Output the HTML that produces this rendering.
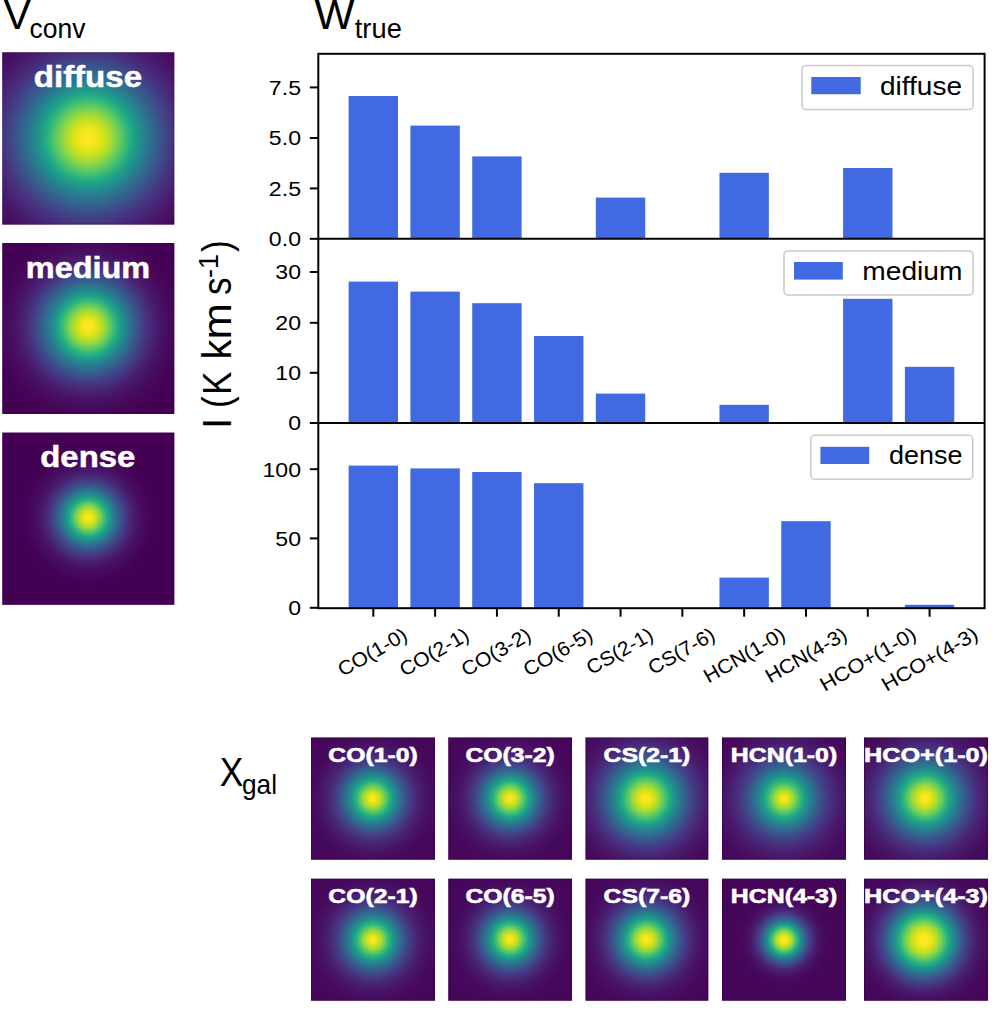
<!DOCTYPE html>
<html><head><meta charset="utf-8"><style>
html,body{margin:0;padding:0;background:#fff;width:1000px;height:1011px;overflow:hidden}
svg{display:block}
</style></head><body>
<svg width="1000" height="1011" viewBox="0 0 1000 1011">
<defs><radialGradient id="g1" gradientUnits="userSpaceOnUse" cx="0" cy="0" r="125"><stop offset="0.0000" stop-color="#fde725"/><stop offset="0.0065" stop-color="#fde725"/><stop offset="0.0161" stop-color="#fde725"/><stop offset="0.0272" stop-color="#fde725"/><stop offset="0.0395" stop-color="#fbe723"/><stop offset="0.0529" stop-color="#f6e620"/><stop offset="0.0670" stop-color="#f1e51d"/><stop offset="0.0818" stop-color="#ece51b"/><stop offset="0.0974" stop-color="#e5e419"/><stop offset="0.1135" stop-color="#dae319"/><stop offset="0.1301" stop-color="#d0e11c"/><stop offset="0.1473" stop-color="#c2df23"/><stop offset="0.1649" stop-color="#b5de2b"/><stop offset="0.1830" stop-color="#a5db36"/><stop offset="0.2015" stop-color="#95d840"/><stop offset="0.2204" stop-color="#81d34d"/><stop offset="0.2397" stop-color="#70cf57"/><stop offset="0.2594" stop-color="#5ec962"/><stop offset="0.2794" stop-color="#4ec36b"/><stop offset="0.2998" stop-color="#3dbc74"/><stop offset="0.3204" stop-color="#2fb47c"/><stop offset="0.3414" stop-color="#25ac82"/><stop offset="0.3627" stop-color="#1fa287"/><stop offset="0.3843" stop-color="#1f9a8a"/><stop offset="0.4061" stop-color="#20928c"/><stop offset="0.4283" stop-color="#23888e"/><stop offset="0.4507" stop-color="#27808e"/><stop offset="0.4733" stop-color="#2a778e"/><stop offset="0.4962" stop-color="#2d708e"/><stop offset="0.5194" stop-color="#31678e"/><stop offset="0.5428" stop-color="#355f8d"/><stop offset="0.5664" stop-color="#38588c"/><stop offset="0.5903" stop-color="#3c508b"/><stop offset="0.6144" stop-color="#3f4889"/><stop offset="0.6387" stop-color="#424186"/><stop offset="0.6632" stop-color="#443a83"/><stop offset="0.6880" stop-color="#46337f"/><stop offset="0.7129" stop-color="#472e7c"/><stop offset="0.7381" stop-color="#482878"/><stop offset="0.7634" stop-color="#482374"/><stop offset="0.7890" stop-color="#481f70"/><stop offset="0.8147" stop-color="#481a6c"/><stop offset="0.8406" stop-color="#481769"/><stop offset="0.8668" stop-color="#471365"/><stop offset="0.8930" stop-color="#471063"/><stop offset="0.9195" stop-color="#470d60"/><stop offset="0.9462" stop-color="#460b5e"/><stop offset="0.9730" stop-color="#46085c"/><stop offset="1.0000" stop-color="#46075a"/></radialGradient>
<radialGradient id="g2" gradientUnits="userSpaceOnUse" cx="0" cy="0" r="125"><stop offset="0.0000" stop-color="#fde725"/><stop offset="0.0065" stop-color="#fde725"/><stop offset="0.0161" stop-color="#fde725"/><stop offset="0.0272" stop-color="#fbe723"/><stop offset="0.0395" stop-color="#f6e620"/><stop offset="0.0529" stop-color="#efe51c"/><stop offset="0.0670" stop-color="#e5e419"/><stop offset="0.0818" stop-color="#d5e21a"/><stop offset="0.0974" stop-color="#c5e021"/><stop offset="0.1135" stop-color="#b2dd2d"/><stop offset="0.1301" stop-color="#9dd93b"/><stop offset="0.1473" stop-color="#86d549"/><stop offset="0.1649" stop-color="#6ece58"/><stop offset="0.1830" stop-color="#56c667"/><stop offset="0.2015" stop-color="#3fbc73"/><stop offset="0.2204" stop-color="#2db27d"/><stop offset="0.2397" stop-color="#22a785"/><stop offset="0.2594" stop-color="#1e9b8a"/><stop offset="0.2794" stop-color="#21908d"/><stop offset="0.2998" stop-color="#25838e"/><stop offset="0.3204" stop-color="#2a788e"/><stop offset="0.3414" stop-color="#2e6e8e"/><stop offset="0.3627" stop-color="#33638d"/><stop offset="0.3843" stop-color="#38588c"/><stop offset="0.4061" stop-color="#3d4e8a"/><stop offset="0.4283" stop-color="#414487"/><stop offset="0.4507" stop-color="#443a83"/><stop offset="0.4733" stop-color="#46327e"/><stop offset="0.4962" stop-color="#472a7a"/><stop offset="0.5194" stop-color="#482374"/><stop offset="0.5428" stop-color="#481d6f"/><stop offset="0.5664" stop-color="#48186a"/><stop offset="0.5903" stop-color="#471365"/><stop offset="0.6144" stop-color="#471063"/><stop offset="0.6387" stop-color="#460b5e"/><stop offset="0.6632" stop-color="#460a5d"/><stop offset="0.6880" stop-color="#46075a"/><stop offset="0.7129" stop-color="#450559"/><stop offset="0.7381" stop-color="#450457"/><stop offset="0.7634" stop-color="#440256"/><stop offset="0.7890" stop-color="#440256"/><stop offset="0.8147" stop-color="#440154"/><stop offset="0.8406" stop-color="#440154"/><stop offset="0.8668" stop-color="#440154"/><stop offset="0.8930" stop-color="#440154"/><stop offset="0.9195" stop-color="#440154"/><stop offset="0.9462" stop-color="#440154"/><stop offset="0.9730" stop-color="#440154"/><stop offset="1.0000" stop-color="#440154"/></radialGradient>
<radialGradient id="g3" gradientUnits="userSpaceOnUse" cx="0" cy="0" r="125"><stop offset="0.0000" stop-color="#fde725"/><stop offset="0.0065" stop-color="#fde725"/><stop offset="0.0161" stop-color="#fbe723"/><stop offset="0.0272" stop-color="#f1e51d"/><stop offset="0.0395" stop-color="#e5e419"/><stop offset="0.0529" stop-color="#d2e21b"/><stop offset="0.0670" stop-color="#bade28"/><stop offset="0.0818" stop-color="#9dd93b"/><stop offset="0.0974" stop-color="#7cd250"/><stop offset="0.1135" stop-color="#5cc863"/><stop offset="0.1301" stop-color="#3dbc74"/><stop offset="0.1473" stop-color="#27ad81"/><stop offset="0.1649" stop-color="#1f9e89"/><stop offset="0.1830" stop-color="#218f8d"/><stop offset="0.2015" stop-color="#27808e"/><stop offset="0.2204" stop-color="#2d718e"/><stop offset="0.2397" stop-color="#33628d"/><stop offset="0.2594" stop-color="#3a548c"/><stop offset="0.2794" stop-color="#3f4788"/><stop offset="0.2998" stop-color="#443b84"/><stop offset="0.3204" stop-color="#472f7d"/><stop offset="0.3414" stop-color="#482677"/><stop offset="0.3627" stop-color="#481d6f"/><stop offset="0.3843" stop-color="#481769"/><stop offset="0.4061" stop-color="#471164"/><stop offset="0.4283" stop-color="#470d60"/><stop offset="0.4507" stop-color="#460a5d"/><stop offset="0.4733" stop-color="#46075a"/><stop offset="0.4962" stop-color="#450457"/><stop offset="0.5194" stop-color="#440256"/><stop offset="0.5428" stop-color="#440256"/><stop offset="0.5664" stop-color="#440154"/><stop offset="0.5903" stop-color="#440154"/><stop offset="0.6144" stop-color="#440154"/><stop offset="0.6387" stop-color="#440154"/><stop offset="0.6632" stop-color="#440154"/><stop offset="0.6880" stop-color="#440154"/><stop offset="0.7129" stop-color="#440154"/><stop offset="0.7381" stop-color="#440154"/><stop offset="0.7634" stop-color="#440154"/><stop offset="0.7890" stop-color="#440154"/><stop offset="0.8147" stop-color="#440154"/><stop offset="0.8406" stop-color="#440154"/><stop offset="0.8668" stop-color="#440154"/><stop offset="0.8930" stop-color="#440154"/><stop offset="0.9195" stop-color="#440154"/><stop offset="0.9462" stop-color="#440154"/><stop offset="0.9730" stop-color="#440154"/><stop offset="1.0000" stop-color="#440154"/></radialGradient>
<radialGradient id="g4" gradientUnits="userSpaceOnUse" cx="0" cy="0" r="95"><stop offset="0.0000" stop-color="#fde725"/><stop offset="0.0065" stop-color="#fde725"/><stop offset="0.0161" stop-color="#fbe723"/><stop offset="0.0272" stop-color="#f4e61e"/><stop offset="0.0395" stop-color="#eae51a"/><stop offset="0.0529" stop-color="#dde318"/><stop offset="0.0670" stop-color="#cae11f"/><stop offset="0.0818" stop-color="#b8de29"/><stop offset="0.0974" stop-color="#9dd93b"/><stop offset="0.1135" stop-color="#84d44b"/><stop offset="0.1301" stop-color="#69cd5b"/><stop offset="0.1473" stop-color="#52c569"/><stop offset="0.1649" stop-color="#3aba76"/><stop offset="0.1830" stop-color="#28ae80"/><stop offset="0.2015" stop-color="#20a386"/><stop offset="0.2204" stop-color="#1f978b"/><stop offset="0.2397" stop-color="#228b8d"/><stop offset="0.2594" stop-color="#27808e"/><stop offset="0.2794" stop-color="#2b748e"/><stop offset="0.2998" stop-color="#30698e"/><stop offset="0.3204" stop-color="#355f8d"/><stop offset="0.3414" stop-color="#3a548c"/><stop offset="0.3627" stop-color="#3e4a89"/><stop offset="0.3843" stop-color="#424186"/><stop offset="0.4061" stop-color="#443983"/><stop offset="0.4283" stop-color="#46327e"/><stop offset="0.4507" stop-color="#472a7a"/><stop offset="0.4733" stop-color="#482475"/><stop offset="0.4962" stop-color="#481f70"/><stop offset="0.5194" stop-color="#481b6d"/><stop offset="0.5428" stop-color="#481769"/><stop offset="0.5664" stop-color="#471365"/><stop offset="0.5903" stop-color="#471063"/><stop offset="0.6144" stop-color="#470e61"/><stop offset="0.6387" stop-color="#460b5e"/><stop offset="0.6632" stop-color="#460a5d"/><stop offset="0.6880" stop-color="#460a5d"/><stop offset="0.7129" stop-color="#46085c"/><stop offset="0.7381" stop-color="#46085c"/><stop offset="0.7634" stop-color="#46075a"/><stop offset="0.7890" stop-color="#46075a"/><stop offset="0.8147" stop-color="#46075a"/><stop offset="0.8406" stop-color="#46075a"/><stop offset="0.8668" stop-color="#46075a"/><stop offset="0.8930" stop-color="#46075a"/><stop offset="0.9195" stop-color="#450559"/><stop offset="0.9462" stop-color="#450559"/><stop offset="0.9730" stop-color="#450559"/><stop offset="1.0000" stop-color="#450559"/></radialGradient>
<radialGradient id="g5" gradientUnits="userSpaceOnUse" cx="0" cy="0" r="95"><stop offset="0.0000" stop-color="#fde725"/><stop offset="0.0065" stop-color="#fde725"/><stop offset="0.0161" stop-color="#fbe723"/><stop offset="0.0272" stop-color="#f4e61e"/><stop offset="0.0395" stop-color="#eae51a"/><stop offset="0.0529" stop-color="#dde318"/><stop offset="0.0670" stop-color="#cae11f"/><stop offset="0.0818" stop-color="#b5de2b"/><stop offset="0.0974" stop-color="#9dd93b"/><stop offset="0.1135" stop-color="#84d44b"/><stop offset="0.1301" stop-color="#69cd5b"/><stop offset="0.1473" stop-color="#50c46a"/><stop offset="0.1649" stop-color="#38b977"/><stop offset="0.1830" stop-color="#27ad81"/><stop offset="0.2015" stop-color="#1fa187"/><stop offset="0.2204" stop-color="#1f958b"/><stop offset="0.2397" stop-color="#23898e"/><stop offset="0.2594" stop-color="#287d8e"/><stop offset="0.2794" stop-color="#2c718e"/><stop offset="0.2998" stop-color="#31678e"/><stop offset="0.3204" stop-color="#365c8d"/><stop offset="0.3414" stop-color="#3b518b"/><stop offset="0.3627" stop-color="#3f4889"/><stop offset="0.3843" stop-color="#423f85"/><stop offset="0.4061" stop-color="#453581"/><stop offset="0.4283" stop-color="#472e7c"/><stop offset="0.4507" stop-color="#482878"/><stop offset="0.4733" stop-color="#482173"/><stop offset="0.4962" stop-color="#481c6e"/><stop offset="0.5194" stop-color="#48186a"/><stop offset="0.5428" stop-color="#481467"/><stop offset="0.5664" stop-color="#471164"/><stop offset="0.5903" stop-color="#470e61"/><stop offset="0.6144" stop-color="#470d60"/><stop offset="0.6387" stop-color="#460b5e"/><stop offset="0.6632" stop-color="#460a5d"/><stop offset="0.6880" stop-color="#46085c"/><stop offset="0.7129" stop-color="#46085c"/><stop offset="0.7381" stop-color="#46075a"/><stop offset="0.7634" stop-color="#46075a"/><stop offset="0.7890" stop-color="#46075a"/><stop offset="0.8147" stop-color="#46075a"/><stop offset="0.8406" stop-color="#46075a"/><stop offset="0.8668" stop-color="#46075a"/><stop offset="0.8930" stop-color="#450559"/><stop offset="0.9195" stop-color="#450559"/><stop offset="0.9462" stop-color="#450559"/><stop offset="0.9730" stop-color="#450559"/><stop offset="1.0000" stop-color="#450559"/></radialGradient>
<radialGradient id="g6" gradientUnits="userSpaceOnUse" cx="0" cy="0" r="95"><stop offset="0.0000" stop-color="#fde725"/><stop offset="0.0065" stop-color="#fde725"/><stop offset="0.0161" stop-color="#fde725"/><stop offset="0.0272" stop-color="#f8e621"/><stop offset="0.0395" stop-color="#f4e61e"/><stop offset="0.0529" stop-color="#ece51b"/><stop offset="0.0670" stop-color="#e5e419"/><stop offset="0.0818" stop-color="#d8e219"/><stop offset="0.0974" stop-color="#cae11f"/><stop offset="0.1135" stop-color="#b8de29"/><stop offset="0.1301" stop-color="#a5db36"/><stop offset="0.1473" stop-color="#90d743"/><stop offset="0.1649" stop-color="#7ad151"/><stop offset="0.1830" stop-color="#65cb5e"/><stop offset="0.2015" stop-color="#50c46a"/><stop offset="0.2204" stop-color="#3dbc74"/><stop offset="0.2397" stop-color="#2db27d"/><stop offset="0.2594" stop-color="#22a884"/><stop offset="0.2794" stop-color="#1f9e89"/><stop offset="0.2998" stop-color="#20938c"/><stop offset="0.3204" stop-color="#23898e"/><stop offset="0.3414" stop-color="#27808e"/><stop offset="0.3627" stop-color="#2a768e"/><stop offset="0.3843" stop-color="#2e6d8e"/><stop offset="0.4061" stop-color="#32648e"/><stop offset="0.4283" stop-color="#375b8d"/><stop offset="0.4507" stop-color="#3b528b"/><stop offset="0.4733" stop-color="#3e4989"/><stop offset="0.4962" stop-color="#424186"/><stop offset="0.5194" stop-color="#443a83"/><stop offset="0.5428" stop-color="#46337f"/><stop offset="0.5664" stop-color="#472d7b"/><stop offset="0.5903" stop-color="#482878"/><stop offset="0.6144" stop-color="#482374"/><stop offset="0.6387" stop-color="#481d6f"/><stop offset="0.6632" stop-color="#481a6c"/><stop offset="0.6880" stop-color="#481769"/><stop offset="0.7129" stop-color="#481467"/><stop offset="0.7381" stop-color="#471164"/><stop offset="0.7634" stop-color="#470e61"/><stop offset="0.7890" stop-color="#470d60"/><stop offset="0.8147" stop-color="#460b5e"/><stop offset="0.8406" stop-color="#460a5d"/><stop offset="0.8668" stop-color="#460a5d"/><stop offset="0.8930" stop-color="#46085c"/><stop offset="0.9195" stop-color="#46085c"/><stop offset="0.9462" stop-color="#46075a"/><stop offset="0.9730" stop-color="#46075a"/><stop offset="1.0000" stop-color="#46075a"/></radialGradient>
<radialGradient id="g7" gradientUnits="userSpaceOnUse" cx="0" cy="0" r="95"><stop offset="0.0000" stop-color="#fde725"/><stop offset="0.0065" stop-color="#fde725"/><stop offset="0.0161" stop-color="#f8e621"/><stop offset="0.0272" stop-color="#f1e51d"/><stop offset="0.0395" stop-color="#e7e419"/><stop offset="0.0529" stop-color="#d8e219"/><stop offset="0.0670" stop-color="#c5e021"/><stop offset="0.0818" stop-color="#b2dd2d"/><stop offset="0.0974" stop-color="#9bd93c"/><stop offset="0.1135" stop-color="#84d44b"/><stop offset="0.1301" stop-color="#6ccd5a"/><stop offset="0.1473" stop-color="#54c568"/><stop offset="0.1649" stop-color="#3fbc73"/><stop offset="0.1830" stop-color="#2eb37c"/><stop offset="0.2015" stop-color="#23a983"/><stop offset="0.2204" stop-color="#1f9f88"/><stop offset="0.2397" stop-color="#20938c"/><stop offset="0.2594" stop-color="#238a8d"/><stop offset="0.2794" stop-color="#27808e"/><stop offset="0.2998" stop-color="#2a768e"/><stop offset="0.3204" stop-color="#2e6d8e"/><stop offset="0.3414" stop-color="#32648e"/><stop offset="0.3627" stop-color="#375b8d"/><stop offset="0.3843" stop-color="#3b528b"/><stop offset="0.4061" stop-color="#3e4a89"/><stop offset="0.4283" stop-color="#414287"/><stop offset="0.4507" stop-color="#443b84"/><stop offset="0.4733" stop-color="#453581"/><stop offset="0.4962" stop-color="#472f7d"/><stop offset="0.5194" stop-color="#482979"/><stop offset="0.5428" stop-color="#482475"/><stop offset="0.5664" stop-color="#482071"/><stop offset="0.5903" stop-color="#481c6e"/><stop offset="0.6144" stop-color="#48186a"/><stop offset="0.6387" stop-color="#481668"/><stop offset="0.6632" stop-color="#471365"/><stop offset="0.6880" stop-color="#471164"/><stop offset="0.7129" stop-color="#470e61"/><stop offset="0.7381" stop-color="#470d60"/><stop offset="0.7634" stop-color="#460b5e"/><stop offset="0.7890" stop-color="#460a5d"/><stop offset="0.8147" stop-color="#460a5d"/><stop offset="0.8406" stop-color="#46085c"/><stop offset="0.8668" stop-color="#46085c"/><stop offset="0.8930" stop-color="#46085c"/><stop offset="0.9195" stop-color="#46075a"/><stop offset="0.9462" stop-color="#46075a"/><stop offset="0.9730" stop-color="#46075a"/><stop offset="1.0000" stop-color="#46075a"/></radialGradient>
<radialGradient id="g8" gradientUnits="userSpaceOnUse" cx="0" cy="0" r="95"><stop offset="0.0000" stop-color="#fde725"/><stop offset="0.0065" stop-color="#fde725"/><stop offset="0.0161" stop-color="#fde725"/><stop offset="0.0272" stop-color="#f8e621"/><stop offset="0.0395" stop-color="#f4e61e"/><stop offset="0.0529" stop-color="#ece51b"/><stop offset="0.0670" stop-color="#e2e418"/><stop offset="0.0818" stop-color="#d5e21a"/><stop offset="0.0974" stop-color="#c5e021"/><stop offset="0.1135" stop-color="#b2dd2d"/><stop offset="0.1301" stop-color="#a0da39"/><stop offset="0.1473" stop-color="#89d548"/><stop offset="0.1649" stop-color="#73d056"/><stop offset="0.1830" stop-color="#5ec962"/><stop offset="0.2015" stop-color="#48c16e"/><stop offset="0.2204" stop-color="#37b878"/><stop offset="0.2397" stop-color="#28ae80"/><stop offset="0.2594" stop-color="#20a486"/><stop offset="0.2794" stop-color="#1f9a8a"/><stop offset="0.2998" stop-color="#21908d"/><stop offset="0.3204" stop-color="#25858e"/><stop offset="0.3414" stop-color="#297b8e"/><stop offset="0.3627" stop-color="#2c718e"/><stop offset="0.3843" stop-color="#30698e"/><stop offset="0.4061" stop-color="#34608d"/><stop offset="0.4283" stop-color="#39568c"/><stop offset="0.4507" stop-color="#3d4e8a"/><stop offset="0.4733" stop-color="#404688"/><stop offset="0.4962" stop-color="#433e85"/><stop offset="0.5194" stop-color="#453781"/><stop offset="0.5428" stop-color="#472f7d"/><stop offset="0.5664" stop-color="#472a7a"/><stop offset="0.5903" stop-color="#482475"/><stop offset="0.6144" stop-color="#482071"/><stop offset="0.6387" stop-color="#481c6e"/><stop offset="0.6632" stop-color="#48186a"/><stop offset="0.6880" stop-color="#481467"/><stop offset="0.7129" stop-color="#471365"/><stop offset="0.7381" stop-color="#471063"/><stop offset="0.7634" stop-color="#470e61"/><stop offset="0.7890" stop-color="#460b5e"/><stop offset="0.8147" stop-color="#460b5e"/><stop offset="0.8406" stop-color="#460a5d"/><stop offset="0.8668" stop-color="#46085c"/><stop offset="0.8930" stop-color="#46085c"/><stop offset="0.9195" stop-color="#46075a"/><stop offset="0.9462" stop-color="#46075a"/><stop offset="0.9730" stop-color="#46075a"/><stop offset="1.0000" stop-color="#46075a"/></radialGradient>
<radialGradient id="g9" gradientUnits="userSpaceOnUse" cx="0" cy="0" r="95"><stop offset="0.0000" stop-color="#fde725"/><stop offset="0.0065" stop-color="#fde725"/><stop offset="0.0161" stop-color="#fbe723"/><stop offset="0.0272" stop-color="#f4e61e"/><stop offset="0.0395" stop-color="#eae51a"/><stop offset="0.0529" stop-color="#dae319"/><stop offset="0.0670" stop-color="#c8e020"/><stop offset="0.0818" stop-color="#b2dd2d"/><stop offset="0.0974" stop-color="#9bd93c"/><stop offset="0.1135" stop-color="#7fd34e"/><stop offset="0.1301" stop-color="#65cb5e"/><stop offset="0.1473" stop-color="#4cc26c"/><stop offset="0.1649" stop-color="#35b779"/><stop offset="0.1830" stop-color="#25ac82"/><stop offset="0.2015" stop-color="#1fa088"/><stop offset="0.2204" stop-color="#20938c"/><stop offset="0.2397" stop-color="#24878e"/><stop offset="0.2594" stop-color="#287c8e"/><stop offset="0.2794" stop-color="#2d718e"/><stop offset="0.2998" stop-color="#31668e"/><stop offset="0.3204" stop-color="#375b8d"/><stop offset="0.3414" stop-color="#3b518b"/><stop offset="0.3627" stop-color="#3f4788"/><stop offset="0.3843" stop-color="#433e85"/><stop offset="0.4061" stop-color="#453581"/><stop offset="0.4283" stop-color="#472e7c"/><stop offset="0.4507" stop-color="#482878"/><stop offset="0.4733" stop-color="#482173"/><stop offset="0.4962" stop-color="#481d6f"/><stop offset="0.5194" stop-color="#48186a"/><stop offset="0.5428" stop-color="#481668"/><stop offset="0.5664" stop-color="#471164"/><stop offset="0.5903" stop-color="#471063"/><stop offset="0.6144" stop-color="#470d60"/><stop offset="0.6387" stop-color="#460b5e"/><stop offset="0.6632" stop-color="#460a5d"/><stop offset="0.6880" stop-color="#46085c"/><stop offset="0.7129" stop-color="#46085c"/><stop offset="0.7381" stop-color="#46075a"/><stop offset="0.7634" stop-color="#46075a"/><stop offset="0.7890" stop-color="#46075a"/><stop offset="0.8147" stop-color="#46075a"/><stop offset="0.8406" stop-color="#46075a"/><stop offset="0.8668" stop-color="#46075a"/><stop offset="0.8930" stop-color="#450559"/><stop offset="0.9195" stop-color="#450559"/><stop offset="0.9462" stop-color="#450559"/><stop offset="0.9730" stop-color="#450559"/><stop offset="1.0000" stop-color="#450559"/></radialGradient>
<radialGradient id="g10" gradientUnits="userSpaceOnUse" cx="0" cy="0" r="95"><stop offset="0.0000" stop-color="#fde725"/><stop offset="0.0065" stop-color="#fde725"/><stop offset="0.0161" stop-color="#fbe723"/><stop offset="0.0272" stop-color="#f4e61e"/><stop offset="0.0395" stop-color="#eae51a"/><stop offset="0.0529" stop-color="#dae319"/><stop offset="0.0670" stop-color="#c8e020"/><stop offset="0.0818" stop-color="#b2dd2d"/><stop offset="0.0974" stop-color="#98d83e"/><stop offset="0.1135" stop-color="#7cd250"/><stop offset="0.1301" stop-color="#60ca60"/><stop offset="0.1473" stop-color="#46c06f"/><stop offset="0.1649" stop-color="#2fb47c"/><stop offset="0.1830" stop-color="#22a884"/><stop offset="0.2015" stop-color="#1e9b8a"/><stop offset="0.2204" stop-color="#218e8d"/><stop offset="0.2397" stop-color="#26818e"/><stop offset="0.2594" stop-color="#2b748e"/><stop offset="0.2794" stop-color="#30698e"/><stop offset="0.2998" stop-color="#355e8d"/><stop offset="0.3204" stop-color="#3b528b"/><stop offset="0.3414" stop-color="#3f4889"/><stop offset="0.3627" stop-color="#433e85"/><stop offset="0.3843" stop-color="#453581"/><stop offset="0.4061" stop-color="#472d7b"/><stop offset="0.4283" stop-color="#482677"/><stop offset="0.4507" stop-color="#482071"/><stop offset="0.4733" stop-color="#481b6d"/><stop offset="0.4962" stop-color="#481769"/><stop offset="0.5194" stop-color="#471365"/><stop offset="0.5428" stop-color="#471063"/><stop offset="0.5664" stop-color="#470d60"/><stop offset="0.5903" stop-color="#460b5e"/><stop offset="0.6144" stop-color="#460a5d"/><stop offset="0.6387" stop-color="#46085c"/><stop offset="0.6632" stop-color="#46085c"/><stop offset="0.6880" stop-color="#46075a"/><stop offset="0.7129" stop-color="#46075a"/><stop offset="0.7381" stop-color="#46075a"/><stop offset="0.7634" stop-color="#46075a"/><stop offset="0.7890" stop-color="#46075a"/><stop offset="0.8147" stop-color="#450559"/><stop offset="0.8406" stop-color="#450559"/><stop offset="0.8668" stop-color="#450559"/><stop offset="0.8930" stop-color="#450559"/><stop offset="0.9195" stop-color="#450559"/><stop offset="0.9462" stop-color="#450559"/><stop offset="0.9730" stop-color="#450559"/><stop offset="1.0000" stop-color="#450559"/></radialGradient>
<radialGradient id="g11" gradientUnits="userSpaceOnUse" cx="0" cy="0" r="95"><stop offset="0.0000" stop-color="#fde725"/><stop offset="0.0065" stop-color="#fde725"/><stop offset="0.0161" stop-color="#fbe723"/><stop offset="0.0272" stop-color="#f6e620"/><stop offset="0.0395" stop-color="#efe51c"/><stop offset="0.0529" stop-color="#e5e419"/><stop offset="0.0670" stop-color="#d8e219"/><stop offset="0.0818" stop-color="#c5e021"/><stop offset="0.0974" stop-color="#b0dd2f"/><stop offset="0.1135" stop-color="#98d83e"/><stop offset="0.1301" stop-color="#7fd34e"/><stop offset="0.1473" stop-color="#65cb5e"/><stop offset="0.1649" stop-color="#4cc26c"/><stop offset="0.1830" stop-color="#37b878"/><stop offset="0.2015" stop-color="#26ad81"/><stop offset="0.2204" stop-color="#1fa188"/><stop offset="0.2397" stop-color="#1f948c"/><stop offset="0.2594" stop-color="#23888e"/><stop offset="0.2794" stop-color="#287d8e"/><stop offset="0.2998" stop-color="#2c718e"/><stop offset="0.3204" stop-color="#31678e"/><stop offset="0.3414" stop-color="#365c8d"/><stop offset="0.3627" stop-color="#3b518b"/><stop offset="0.3843" stop-color="#3f4889"/><stop offset="0.4061" stop-color="#423f85"/><stop offset="0.4283" stop-color="#453581"/><stop offset="0.4507" stop-color="#472e7c"/><stop offset="0.4733" stop-color="#482878"/><stop offset="0.4962" stop-color="#482173"/><stop offset="0.5194" stop-color="#481c6e"/><stop offset="0.5428" stop-color="#48186a"/><stop offset="0.5664" stop-color="#481467"/><stop offset="0.5903" stop-color="#471164"/><stop offset="0.6144" stop-color="#470e61"/><stop offset="0.6387" stop-color="#470d60"/><stop offset="0.6632" stop-color="#460b5e"/><stop offset="0.6880" stop-color="#460a5d"/><stop offset="0.7129" stop-color="#46085c"/><stop offset="0.7381" stop-color="#46085c"/><stop offset="0.7634" stop-color="#46075a"/><stop offset="0.7890" stop-color="#46075a"/><stop offset="0.8147" stop-color="#46075a"/><stop offset="0.8406" stop-color="#46075a"/><stop offset="0.8668" stop-color="#46075a"/><stop offset="0.8930" stop-color="#450559"/><stop offset="0.9195" stop-color="#450559"/><stop offset="0.9462" stop-color="#450559"/><stop offset="0.9730" stop-color="#450559"/><stop offset="1.0000" stop-color="#450559"/></radialGradient>
<radialGradient id="g12" gradientUnits="userSpaceOnUse" cx="0" cy="0" r="95"><stop offset="0.0000" stop-color="#fde725"/><stop offset="0.0065" stop-color="#fde725"/><stop offset="0.0161" stop-color="#fbe723"/><stop offset="0.0272" stop-color="#f6e620"/><stop offset="0.0395" stop-color="#ece51b"/><stop offset="0.0529" stop-color="#dae319"/><stop offset="0.0670" stop-color="#c5e021"/><stop offset="0.0818" stop-color="#a8db34"/><stop offset="0.0974" stop-color="#84d44b"/><stop offset="0.1135" stop-color="#60ca60"/><stop offset="0.1301" stop-color="#3fbc73"/><stop offset="0.1473" stop-color="#26ad81"/><stop offset="0.1649" stop-color="#1e9b8a"/><stop offset="0.1830" stop-color="#23898e"/><stop offset="0.2015" stop-color="#2a788e"/><stop offset="0.2204" stop-color="#31678e"/><stop offset="0.2397" stop-color="#38588c"/><stop offset="0.2594" stop-color="#3f4889"/><stop offset="0.2794" stop-color="#443a83"/><stop offset="0.2998" stop-color="#472e7c"/><stop offset="0.3204" stop-color="#482475"/><stop offset="0.3414" stop-color="#481b6d"/><stop offset="0.3627" stop-color="#481668"/><stop offset="0.3843" stop-color="#471063"/><stop offset="0.4061" stop-color="#470d60"/><stop offset="0.4283" stop-color="#460a5d"/><stop offset="0.4507" stop-color="#46085c"/><stop offset="0.4733" stop-color="#46075a"/><stop offset="0.4962" stop-color="#46075a"/><stop offset="0.5194" stop-color="#46075a"/><stop offset="0.5428" stop-color="#450559"/><stop offset="0.5664" stop-color="#450559"/><stop offset="0.5903" stop-color="#450559"/><stop offset="0.6144" stop-color="#450559"/><stop offset="0.6387" stop-color="#450559"/><stop offset="0.6632" stop-color="#450559"/><stop offset="0.6880" stop-color="#450559"/><stop offset="0.7129" stop-color="#450559"/><stop offset="0.7381" stop-color="#450559"/><stop offset="0.7634" stop-color="#450559"/><stop offset="0.7890" stop-color="#450559"/><stop offset="0.8147" stop-color="#450559"/><stop offset="0.8406" stop-color="#450559"/><stop offset="0.8668" stop-color="#450559"/><stop offset="0.8930" stop-color="#450559"/><stop offset="0.9195" stop-color="#450559"/><stop offset="0.9462" stop-color="#450559"/><stop offset="0.9730" stop-color="#450559"/><stop offset="1.0000" stop-color="#450559"/></radialGradient>
<radialGradient id="g13" gradientUnits="userSpaceOnUse" cx="0" cy="0" r="95"><stop offset="0.0000" stop-color="#fde725"/><stop offset="0.0065" stop-color="#fde725"/><stop offset="0.0161" stop-color="#fde725"/><stop offset="0.0272" stop-color="#fde725"/><stop offset="0.0395" stop-color="#fbe723"/><stop offset="0.0529" stop-color="#f6e620"/><stop offset="0.0670" stop-color="#f1e51d"/><stop offset="0.0818" stop-color="#eae51a"/><stop offset="0.0974" stop-color="#dde318"/><stop offset="0.1135" stop-color="#d0e11c"/><stop offset="0.1301" stop-color="#c0df25"/><stop offset="0.1473" stop-color="#aadc32"/><stop offset="0.1649" stop-color="#95d840"/><stop offset="0.1830" stop-color="#7cd250"/><stop offset="0.2015" stop-color="#65cb5e"/><stop offset="0.2204" stop-color="#4cc26c"/><stop offset="0.2397" stop-color="#37b878"/><stop offset="0.2594" stop-color="#26ad81"/><stop offset="0.2794" stop-color="#1fa188"/><stop offset="0.2998" stop-color="#20938c"/><stop offset="0.3204" stop-color="#24878e"/><stop offset="0.3414" stop-color="#297b8e"/><stop offset="0.3627" stop-color="#2e6f8e"/><stop offset="0.3843" stop-color="#33638d"/><stop offset="0.4061" stop-color="#38588c"/><stop offset="0.4283" stop-color="#3e4c8a"/><stop offset="0.4507" stop-color="#424186"/><stop offset="0.4733" stop-color="#453882"/><stop offset="0.4962" stop-color="#472f7d"/><stop offset="0.5194" stop-color="#482677"/><stop offset="0.5428" stop-color="#482071"/><stop offset="0.5664" stop-color="#481b6d"/><stop offset="0.5903" stop-color="#481668"/><stop offset="0.6144" stop-color="#471164"/><stop offset="0.6387" stop-color="#470e61"/><stop offset="0.6632" stop-color="#470d60"/><stop offset="0.6880" stop-color="#460a5d"/><stop offset="0.7129" stop-color="#46085c"/><stop offset="0.7381" stop-color="#46085c"/><stop offset="0.7634" stop-color="#46075a"/><stop offset="0.7890" stop-color="#46075a"/><stop offset="0.8147" stop-color="#46075a"/><stop offset="0.8406" stop-color="#46075a"/><stop offset="0.8668" stop-color="#450559"/><stop offset="0.8930" stop-color="#450559"/><stop offset="0.9195" stop-color="#450559"/><stop offset="0.9462" stop-color="#450559"/><stop offset="0.9730" stop-color="#450559"/><stop offset="1.0000" stop-color="#450559"/></radialGradient></defs>
<rect width="1000" height="1011" fill="#fff"/>
<text x="3.5" y="28.8" textLength="27.5" lengthAdjust="spacingAndGlyphs" style="font-family:'Liberation Sans',sans-serif;font-size:42px" fill="#000">V</text>
<text x="29.5" y="38.2" textLength="56" lengthAdjust="spacingAndGlyphs" style="font-family:'Liberation Sans',sans-serif;font-size:28px" fill="#000">conv</text>
<text x="314.5" y="28.8" textLength="40" lengthAdjust="spacingAndGlyphs" style="font-family:'Liberation Sans',sans-serif;font-size:42px" fill="#000">W</text>
<text x="354.8" y="38.2" textLength="47" lengthAdjust="spacingAndGlyphs" style="font-family:'Liberation Sans',sans-serif;font-size:28px" fill="#000">true</text>
<text x="219.8" y="786.2" textLength="23.5" lengthAdjust="spacingAndGlyphs" style="font-family:'Liberation Sans',sans-serif;font-size:40px" fill="#000">X</text>
<text x="242" y="794" textLength="35" lengthAdjust="spacingAndGlyphs" style="font-family:'Liberation Sans',sans-serif;font-size:28px" fill="#000">gal</text>
<g transform="translate(88.3,138.2)"><rect x="-86" y="-85.9" width="172" height="172.3" fill="url(#g1)"/></g>
<rect x="2.8" y="52.8" width="171" height="171.3" fill="none" stroke="#2a003c" stroke-opacity="0.35" stroke-width="1"/>
<text x="33.8" y="87" textLength="108.2" lengthAdjust="spacingAndGlyphs" style="font-family:'Liberation Sans',sans-serif;font-size:29px;font-weight:bold" fill="#fff" stroke="#fff" stroke-width="0.5">diffuse</text>
<g transform="translate(88.3,326.6)"><rect x="-86" y="-83.6" width="172" height="171" fill="url(#g2)"/></g>
<rect x="2.8" y="243.5" width="171" height="170" fill="none" stroke="#2a003c" stroke-opacity="0.35" stroke-width="1"/>
<text x="25.8" y="277.8" textLength="124.4" lengthAdjust="spacingAndGlyphs" style="font-family:'Liberation Sans',sans-serif;font-size:29px;font-weight:bold" fill="#fff" stroke="#fff" stroke-width="0.5">medium</text>
<g transform="translate(88.3,517.5)"><rect x="-86" y="-84.9" width="172" height="172.2" fill="url(#g3)"/></g>
<rect x="2.8" y="433.1" width="171" height="171.2" fill="none" stroke="#2a003c" stroke-opacity="0.35" stroke-width="1"/>
<text x="40.3" y="467.2" textLength="95" lengthAdjust="spacingAndGlyphs" style="font-family:'Liberation Sans',sans-serif;font-size:29px;font-weight:bold" fill="#fff" stroke="#fff" stroke-width="0.5">dense</text>
<rect x="348.60" y="96.00" width="49.40" height="142.80" fill="#4169e1"/>
<rect x="410.41" y="125.60" width="49.40" height="113.20" fill="#4169e1"/>
<rect x="472.22" y="156.40" width="49.40" height="82.40" fill="#4169e1"/>
<rect x="595.84" y="197.60" width="49.40" height="41.20" fill="#4169e1"/>
<rect x="719.46" y="172.80" width="49.40" height="66.00" fill="#4169e1"/>
<rect x="843.08" y="168.00" width="49.40" height="70.80" fill="#4169e1"/>
<rect x="348.60" y="281.60" width="49.40" height="141.40" fill="#4169e1"/>
<rect x="410.41" y="291.60" width="49.40" height="131.40" fill="#4169e1"/>
<rect x="472.22" y="303.20" width="49.40" height="119.80" fill="#4169e1"/>
<rect x="534.03" y="336.00" width="49.40" height="87.00" fill="#4169e1"/>
<rect x="595.84" y="393.60" width="49.40" height="29.40" fill="#4169e1"/>
<rect x="719.46" y="404.80" width="49.40" height="18.20" fill="#4169e1"/>
<rect x="843.08" y="298.80" width="49.40" height="124.20" fill="#4169e1"/>
<rect x="904.89" y="366.80" width="49.40" height="56.20" fill="#4169e1"/>
<rect x="348.60" y="465.60" width="49.40" height="142.60" fill="#4169e1"/>
<rect x="410.41" y="468.40" width="49.40" height="139.80" fill="#4169e1"/>
<rect x="472.22" y="472.00" width="49.40" height="136.20" fill="#4169e1"/>
<rect x="534.03" y="483.20" width="49.40" height="125.00" fill="#4169e1"/>
<rect x="719.46" y="577.60" width="49.40" height="30.60" fill="#4169e1"/>
<rect x="781.27" y="521.20" width="49.40" height="87.00" fill="#4169e1"/>
<rect x="904.89" y="604.80" width="49.40" height="3.40" fill="#4169e1"/>
<rect x="318.3" y="53.8" width="666.3" height="554.4" fill="none" stroke="#000" stroke-width="2"/>
<line x1="318.3" y1="238.8" x2="984.6" y2="238.8" stroke="#000" stroke-width="2"/>
<line x1="318.3" y1="423" x2="984.6" y2="423" stroke="#000" stroke-width="2"/>
<line x1="309.8" y1="87.4" x2="318.3" y2="87.4" stroke="#000" stroke-width="2"/>
<text x="301" y="94.7" text-anchor="end" textLength="32.118" lengthAdjust="spacingAndGlyphs" style="font-family:'Liberation Sans',sans-serif;font-size:20.5px" fill="#000">7.5</text>
<line x1="309.8" y1="138" x2="318.3" y2="138" stroke="#000" stroke-width="2"/>
<text x="301" y="145.3" text-anchor="end" textLength="32.118" lengthAdjust="spacingAndGlyphs" style="font-family:'Liberation Sans',sans-serif;font-size:20.5px" fill="#000">5.0</text>
<line x1="309.8" y1="188.4" x2="318.3" y2="188.4" stroke="#000" stroke-width="2"/>
<text x="301" y="195.7" text-anchor="end" textLength="32.118" lengthAdjust="spacingAndGlyphs" style="font-family:'Liberation Sans',sans-serif;font-size:20.5px" fill="#000">2.5</text>
<line x1="309.8" y1="238.8" x2="318.3" y2="238.8" stroke="#000" stroke-width="2"/>
<text x="301" y="246.1" text-anchor="end" textLength="32.118" lengthAdjust="spacingAndGlyphs" style="font-family:'Liberation Sans',sans-serif;font-size:20.5px" fill="#000">0.0</text>
<line x1="309.8" y1="272" x2="318.3" y2="272" stroke="#000" stroke-width="2"/>
<text x="301" y="279.3" text-anchor="end" textLength="25.6944" lengthAdjust="spacingAndGlyphs" style="font-family:'Liberation Sans',sans-serif;font-size:20.5px" fill="#000">30</text>
<line x1="309.8" y1="322.8" x2="318.3" y2="322.8" stroke="#000" stroke-width="2"/>
<text x="301" y="330.1" text-anchor="end" textLength="25.6944" lengthAdjust="spacingAndGlyphs" style="font-family:'Liberation Sans',sans-serif;font-size:20.5px" fill="#000">20</text>
<line x1="309.8" y1="372.8" x2="318.3" y2="372.8" stroke="#000" stroke-width="2"/>
<text x="301" y="380.1" text-anchor="end" textLength="25.6944" lengthAdjust="spacingAndGlyphs" style="font-family:'Liberation Sans',sans-serif;font-size:20.5px" fill="#000">10</text>
<line x1="309.8" y1="423" x2="318.3" y2="423" stroke="#000" stroke-width="2"/>
<text x="301" y="430.3" text-anchor="end" textLength="12.8472" lengthAdjust="spacingAndGlyphs" style="font-family:'Liberation Sans',sans-serif;font-size:20.5px" fill="#000">0</text>
<line x1="309.8" y1="469.2" x2="318.3" y2="469.2" stroke="#000" stroke-width="2"/>
<text x="301" y="476.5" text-anchor="end" textLength="38.5416" lengthAdjust="spacingAndGlyphs" style="font-family:'Liberation Sans',sans-serif;font-size:20.5px" fill="#000">100</text>
<line x1="309.8" y1="538.4" x2="318.3" y2="538.4" stroke="#000" stroke-width="2"/>
<text x="301" y="545.7" text-anchor="end" textLength="25.6944" lengthAdjust="spacingAndGlyphs" style="font-family:'Liberation Sans',sans-serif;font-size:20.5px" fill="#000">50</text>
<line x1="309.8" y1="607.8" x2="318.3" y2="607.8" stroke="#000" stroke-width="2"/>
<text x="301" y="615.1" text-anchor="end" textLength="12.8472" lengthAdjust="spacingAndGlyphs" style="font-family:'Liberation Sans',sans-serif;font-size:20.5px" fill="#000">0</text>
<line x1="373.3" y1="608.2" x2="373.3" y2="616.7" stroke="#000" stroke-width="2"/>
<g transform="translate(375.80,658.00) rotate(-30)"><text x="0" y="0" text-anchor="middle" style="font-family:'Liberation Sans',sans-serif;font-size:20px" fill="#000" textLength="76.4" lengthAdjust="spacingAndGlyphs">CO(1-0)</text></g>
<line x1="435.11" y1="608.2" x2="435.11" y2="616.7" stroke="#000" stroke-width="2"/>
<g transform="translate(437.61,658.00) rotate(-30)"><text x="0" y="0" text-anchor="middle" style="font-family:'Liberation Sans',sans-serif;font-size:20px" fill="#000" textLength="76.4" lengthAdjust="spacingAndGlyphs">CO(2-1)</text></g>
<line x1="496.92" y1="608.2" x2="496.92" y2="616.7" stroke="#000" stroke-width="2"/>
<g transform="translate(499.42,658.00) rotate(-30)"><text x="0" y="0" text-anchor="middle" style="font-family:'Liberation Sans',sans-serif;font-size:20px" fill="#000" textLength="76.4" lengthAdjust="spacingAndGlyphs">CO(3-2)</text></g>
<line x1="558.73" y1="608.2" x2="558.73" y2="616.7" stroke="#000" stroke-width="2"/>
<g transform="translate(561.23,658.00) rotate(-30)"><text x="0" y="0" text-anchor="middle" style="font-family:'Liberation Sans',sans-serif;font-size:20px" fill="#000" textLength="76.4" lengthAdjust="spacingAndGlyphs">CO(6-5)</text></g>
<line x1="620.54" y1="608.2" x2="620.54" y2="616.7" stroke="#000" stroke-width="2"/>
<g transform="translate(623.04,657.00) rotate(-30)"><text x="0" y="0" text-anchor="middle" style="font-family:'Liberation Sans',sans-serif;font-size:20px" fill="#000" textLength="73.4" lengthAdjust="spacingAndGlyphs">CS(2-1)</text></g>
<line x1="682.35" y1="608.2" x2="682.35" y2="616.7" stroke="#000" stroke-width="2"/>
<g transform="translate(684.85,657.00) rotate(-30)"><text x="0" y="0" text-anchor="middle" style="font-family:'Liberation Sans',sans-serif;font-size:20px" fill="#000" textLength="73.4" lengthAdjust="spacingAndGlyphs">CS(7-6)</text></g>
<line x1="744.16" y1="608.2" x2="744.16" y2="616.7" stroke="#000" stroke-width="2"/>
<g transform="translate(747.66,661.00) rotate(-30)"><text x="0" y="0" text-anchor="middle" style="font-family:'Liberation Sans',sans-serif;font-size:20px" fill="#000" textLength="90.4" lengthAdjust="spacingAndGlyphs">HCN(1-0)</text></g>
<line x1="805.97" y1="608.2" x2="805.97" y2="616.7" stroke="#000" stroke-width="2"/>
<g transform="translate(809.47,661.00) rotate(-30)"><text x="0" y="0" text-anchor="middle" style="font-family:'Liberation Sans',sans-serif;font-size:20px" fill="#000" textLength="90.4" lengthAdjust="spacingAndGlyphs">HCN(4-3)</text></g>
<line x1="867.78" y1="608.2" x2="867.78" y2="616.7" stroke="#000" stroke-width="2"/>
<g transform="translate(871.28,665.00) rotate(-30)"><text x="0" y="0" text-anchor="middle" style="font-family:'Liberation Sans',sans-serif;font-size:20px" fill="#000" textLength="107.6" lengthAdjust="spacingAndGlyphs">HCO+(1-0)</text></g>
<line x1="929.59" y1="608.2" x2="929.59" y2="616.7" stroke="#000" stroke-width="2"/>
<g transform="translate(933.09,665.00) rotate(-30)"><text x="0" y="0" text-anchor="middle" style="font-family:'Liberation Sans',sans-serif;font-size:20px" fill="#000" textLength="107.6" lengthAdjust="spacingAndGlyphs">HCO+(4-3)</text></g>
<rect x="802" y="65.5" width="171" height="44" rx="4" ry="4" fill="#fff" fill-opacity="0.8" stroke="#cccccc" stroke-width="1.6"/>
<rect x="811.3" y="77" width="49.4" height="17.2" fill="#4169e1"/>
<text x="880" y="94.6" textLength="82" lengthAdjust="spacingAndGlyphs" style="font-family:'Liberation Sans',sans-serif;font-size:26px" fill="#000">diffuse</text>
<rect x="784" y="251" width="189" height="44" rx="4" ry="4" fill="#fff" fill-opacity="0.8" stroke="#cccccc" stroke-width="1.6"/>
<rect x="794" y="262" width="48.8" height="17.6" fill="#4169e1"/>
<text x="862.3" y="280" textLength="100.2" lengthAdjust="spacingAndGlyphs" style="font-family:'Liberation Sans',sans-serif;font-size:26px" fill="#000">medium</text>
<rect x="810.8" y="435.3" width="162" height="44" rx="4" ry="4" fill="#fff" fill-opacity="0.8" stroke="#cccccc" stroke-width="1.6"/>
<rect x="820.4" y="446.8" width="48.8" height="17.2" fill="#4169e1"/>
<text x="889.1" y="464.4" textLength="73.4" lengthAdjust="spacingAndGlyphs" style="font-family:'Liberation Sans',sans-serif;font-size:26px" fill="#000">dense</text>
<g transform="translate(231,0) rotate(-90)"><text x="-429" y="0" style="font-family:'Liberation Sans',sans-serif;font-size:40px" textLength="11.1" lengthAdjust="spacingAndGlyphs">I</text></g>
<g transform="translate(231,0) rotate(-90)"><text x="-407.9" y="0" style="font-family:'Liberation Sans',sans-serif;font-size:40px" textLength="11.6" lengthAdjust="spacingAndGlyphs">(</text></g>
<g transform="translate(231,0) rotate(-90)"><text x="-394.8" y="0" style="font-family:'Liberation Sans',sans-serif;font-size:40px" textLength="23.2" lengthAdjust="spacingAndGlyphs">K</text></g>
<g transform="translate(231,0) rotate(-90)"><text x="-359.5" y="0" style="font-family:'Liberation Sans',sans-serif;font-size:40px" textLength="20" lengthAdjust="spacingAndGlyphs">k</text></g>
<g transform="translate(231,0) rotate(-90)"><text x="-339.5" y="0" style="font-family:'Liberation Sans',sans-serif;font-size:40px" textLength="36.5" lengthAdjust="spacingAndGlyphs">m</text></g>
<g transform="translate(231,0) rotate(-90)"><text x="-295" y="0" style="font-family:'Liberation Sans',sans-serif;font-size:40px" textLength="17.6" lengthAdjust="spacingAndGlyphs">s</text></g>
<g transform="translate(218,0) rotate(-90)"><text x="-278" y="0" style="font-family:'Liberation Sans',sans-serif;font-size:27px" textLength="24" lengthAdjust="spacingAndGlyphs">-1</text></g>
<g transform="translate(231,0) rotate(-90)"><text x="-252" y="0" style="font-family:'Liberation Sans',sans-serif;font-size:40px" textLength="11.7" lengthAdjust="spacingAndGlyphs">)</text></g>
<g transform="translate(372.8,798.6)"><rect x="-61.8" y="-61.1" width="124" height="122.2" fill="url(#g4)"/></g>
<rect x="311.5" y="738" width="123" height="121.2" fill="none" stroke="#2a003c" stroke-opacity="0.45" stroke-width="1"/>
<text x="373" y="761.8" text-anchor="middle" textLength="89.3287" lengthAdjust="spacingAndGlyphs" style="font-family:'Liberation Sans',sans-serif;font-size:21px;font-weight:bold" fill="#fff" stroke="#fff" stroke-width="0.6">CO(1-0)</text>
<g transform="translate(510,798.6)"><rect x="-61.7" y="-61.1" width="123.7" height="122.2" fill="url(#g5)"/></g>
<rect x="448.8" y="738" width="122.7" height="121.2" fill="none" stroke="#2a003c" stroke-opacity="0.45" stroke-width="1"/>
<text x="510.15" y="761.8" text-anchor="middle" textLength="89.3287" lengthAdjust="spacingAndGlyphs" style="font-family:'Liberation Sans',sans-serif;font-size:21px;font-weight:bold" fill="#fff" stroke="#fff" stroke-width="0.6">CO(3-2)</text>
<g transform="translate(645.8,798.6)"><rect x="-60.3" y="-61.1" width="122.8" height="122.2" fill="url(#g6)"/></g>
<rect x="586" y="738" width="121.8" height="121.2" fill="none" stroke="#2a003c" stroke-opacity="0.45" stroke-width="1"/>
<text x="646.9" y="761.8" text-anchor="middle" textLength="86.6312" lengthAdjust="spacingAndGlyphs" style="font-family:'Liberation Sans',sans-serif;font-size:21px;font-weight:bold" fill="#fff" stroke="#fff" stroke-width="0.6">CS(2-1)</text>
<g transform="translate(784,798.6)"><rect x="-62" y="-61.1" width="124" height="122.2" fill="url(#g7)"/></g>
<rect x="722.5" y="738" width="123" height="121.2" fill="none" stroke="#2a003c" stroke-opacity="0.45" stroke-width="1"/>
<text x="784" y="761.8" text-anchor="middle" textLength="106.427" lengthAdjust="spacingAndGlyphs" style="font-family:'Liberation Sans',sans-serif;font-size:21px;font-weight:bold" fill="#fff" stroke="#fff" stroke-width="0.6">HCN(1-0)</text>
<g transform="translate(925.2,798.3)"><rect x="-61.2" y="-60.8" width="124" height="122.2" fill="url(#g8)"/></g>
<rect x="864.5" y="738" width="123" height="121.2" fill="none" stroke="#2a003c" stroke-opacity="0.45" stroke-width="1"/>
<text x="926" y="761.8" text-anchor="middle" textLength="124.085" lengthAdjust="spacingAndGlyphs" style="font-family:'Liberation Sans',sans-serif;font-size:21px;font-weight:bold" fill="#fff" stroke="#fff" stroke-width="0.6">HCO+(1-0)</text>
<g transform="translate(373,940)"><rect x="-62" y="-61.3" width="124" height="122" fill="url(#g9)"/></g>
<rect x="311.5" y="879.2" width="123" height="121" fill="none" stroke="#2a003c" stroke-opacity="0.45" stroke-width="1"/>
<text x="373" y="903" text-anchor="middle" textLength="89.3287" lengthAdjust="spacingAndGlyphs" style="font-family:'Liberation Sans',sans-serif;font-size:21px;font-weight:bold" fill="#fff" stroke="#fff" stroke-width="0.6">CO(2-1)</text>
<g transform="translate(510,939.3)"><rect x="-61.7" y="-60.6" width="123.7" height="122" fill="url(#g10)"/></g>
<rect x="448.8" y="879.2" width="122.7" height="121" fill="none" stroke="#2a003c" stroke-opacity="0.45" stroke-width="1"/>
<text x="510.15" y="903" text-anchor="middle" textLength="89.3287" lengthAdjust="spacingAndGlyphs" style="font-family:'Liberation Sans',sans-serif;font-size:21px;font-weight:bold" fill="#fff" stroke="#fff" stroke-width="0.6">CO(6-5)</text>
<g transform="translate(646.5,939.5)"><rect x="-61" y="-60.8" width="122.8" height="122" fill="url(#g11)"/></g>
<rect x="586" y="879.2" width="121.8" height="121" fill="none" stroke="#2a003c" stroke-opacity="0.45" stroke-width="1"/>
<text x="646.9" y="903" text-anchor="middle" textLength="86.6312" lengthAdjust="spacingAndGlyphs" style="font-family:'Liberation Sans',sans-serif;font-size:21px;font-weight:bold" fill="#fff" stroke="#fff" stroke-width="0.6">CS(7-6)</text>
<g transform="translate(784,940)"><rect x="-62" y="-61.3" width="124" height="122" fill="url(#g12)"/></g>
<rect x="722.5" y="879.2" width="123" height="121" fill="none" stroke="#2a003c" stroke-opacity="0.45" stroke-width="1"/>
<text x="784" y="903" text-anchor="middle" textLength="106.427" lengthAdjust="spacingAndGlyphs" style="font-family:'Liberation Sans',sans-serif;font-size:21px;font-weight:bold" fill="#fff" stroke="#fff" stroke-width="0.6">HCN(4-3)</text>
<g transform="translate(923.6,940)"><rect x="-59.6" y="-61.3" width="124" height="122" fill="url(#g13)"/></g>
<rect x="864.5" y="879.2" width="123" height="121" fill="none" stroke="#2a003c" stroke-opacity="0.45" stroke-width="1"/>
<text x="926" y="903" text-anchor="middle" textLength="124.085" lengthAdjust="spacingAndGlyphs" style="font-family:'Liberation Sans',sans-serif;font-size:21px;font-weight:bold" fill="#fff" stroke="#fff" stroke-width="0.6">HCO+(4-3)</text>
</svg></body></html>
